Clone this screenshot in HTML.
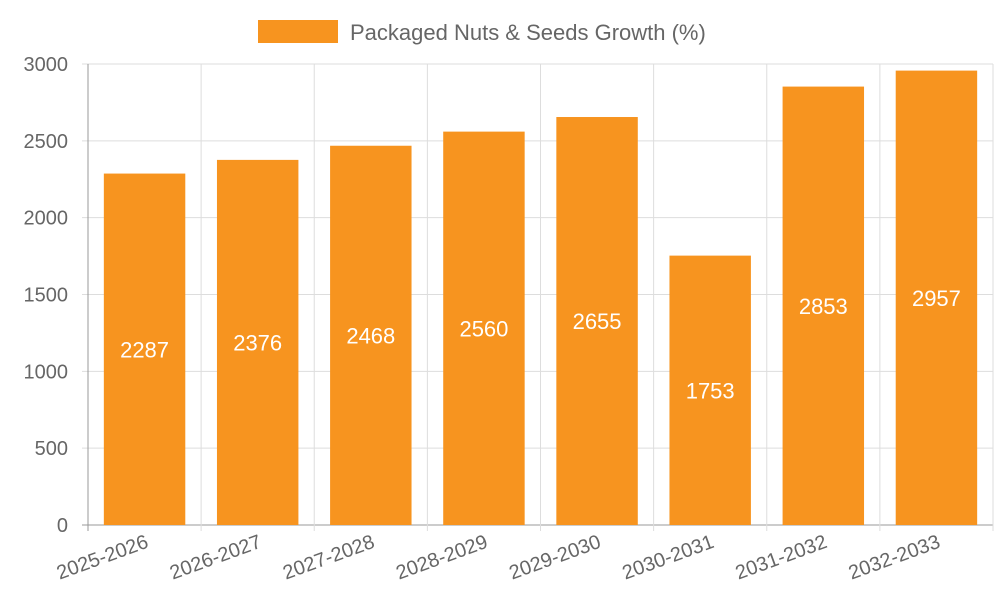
<!DOCTYPE html>
<html><head><meta charset="utf-8"><style>
body{margin:0;background:#fff;}
svg{display:block;font-family:"Liberation Sans",sans-serif;}
</style></head><body>
<svg id="chart" width="1000" height="600">
<g id="grid"></g><g id="bars"></g><g id="labels"></g>
<rect x="258" y="20" width="80" height="23" fill="#f7941f"/>
<text x="350" y="40" font-size="22" fill="#666">Packaged Nuts &amp; Seeds Growth (%)</text>
</svg>
<script>
const categories=["2025-2026","2026-2027","2027-2028","2028-2029","2029-2030","2030-2031","2031-2032","2032-2033"];
const values=[2287,2376,2468,2560,2655,1753,2853,2957];
const yTicks=[0,500,1000,1500,2000,2500,3000];
const X0=88,X1=993,Y0=525,Y1=64,YMAX=3000;
const bw=(X1-X0)/categories.length;
const y=v=>Y0-(v/YMAX)*(Y0-Y1);
const x=i=>X0+i*bw;
const NS="http://www.w3.org/2000/svg";
function mk(p,t,a){const e=document.createElementNS(NS,t);for(const k in a)e.setAttribute(k,a[k]);p.appendChild(e);return e;}
const g=document.getElementById('grid'),b=document.getElementById('bars'),l=document.getElementById('labels');
yTicks.forEach(t=>{
 const ln=mk(g,'line',{x1:X0-6,x2:X1,y1:y(t),y2:y(t),stroke:t===0?'#999':'#ddd','stroke-width':1});
 
 
 const tx=mk(l,'text',{x:X0-20,y:y(t)+7,'text-anchor':'end','font-size':20,fill:'#666'});
 tx.textContent=t;
 
 
});
for(let i=0;i<=categories.length;i++){
 const ln=mk(g,'line',{x1:x(i),x2:x(i),y1:Y1,y2:Y0+6,stroke:i===0?'#999':'#ddd','stroke-width':1});
 
 
}
categories.forEach((c,i)=>{
 const v=values[i],bx=x(i)+bw*0.14,w=bw*0.72;
 const r=mk(b,'rect',{x:bx,y:y(v),width:w,height:Y0-y(v),fill:'#f7941f'});
 
 
 const vt=mk(l,'text',{x:bx+w/2,y:(y(v)+Y0)/2+8,'text-anchor':'middle','font-size':22,fill:'#fff'});
 vt.textContent=v;
 
 
 const cx=x(i)+bw/2+5,cy=Y0+22;
 const ct=mk(l,'text',{x:cx,y:cy,'text-anchor':'end','font-size':20,fill:'#666',transform:`rotate(-20 ${cx} ${cy})`});
 ct.textContent=c;
 
 
});
</script>
</body></html>
